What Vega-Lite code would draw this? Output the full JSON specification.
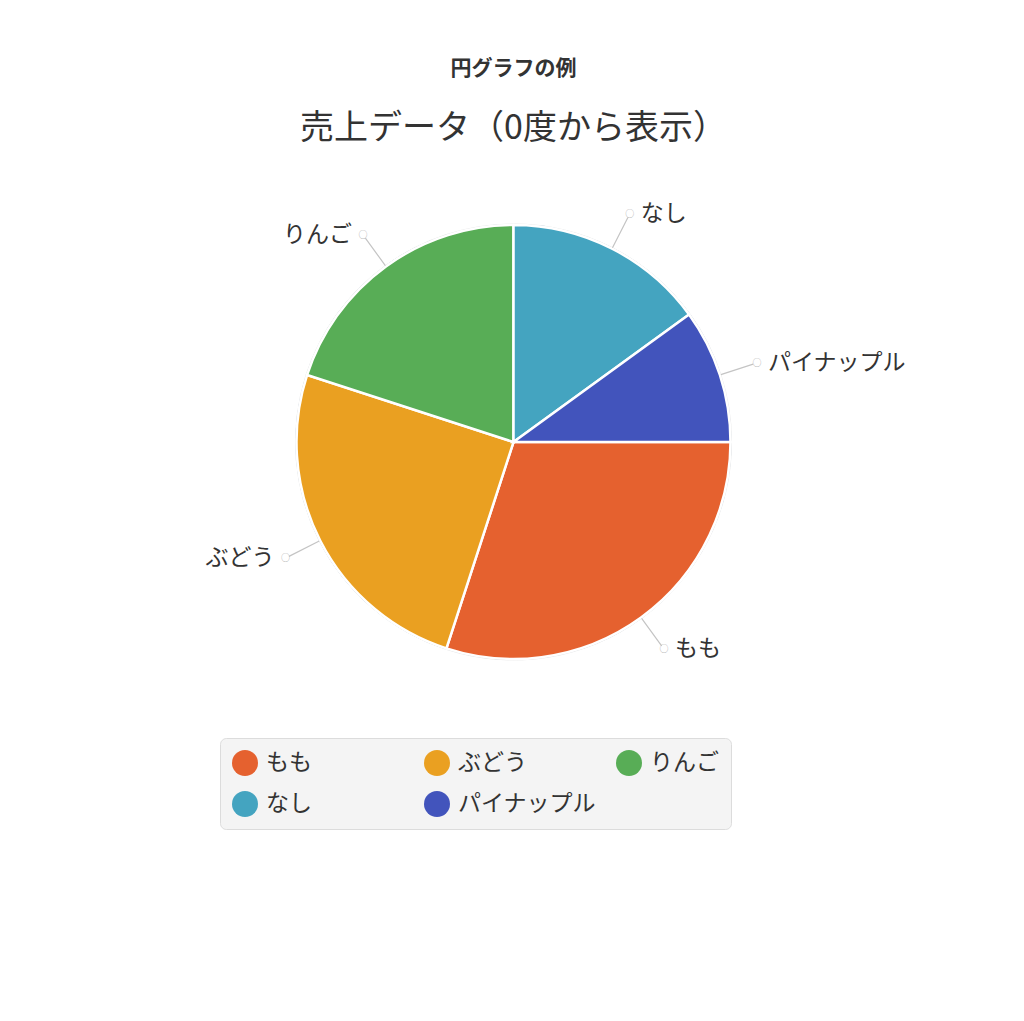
{
  "$schema": "https://vega.github.io/schema/vega-lite/v6.json",
  "width": 933,
  "height": 562,
  "padding": {"top": 58, "left": 47, "right": 44, "bottom": 20},
  "background": "white",
  "title": {
    "text": "円グラフの例",
    "subtitle": "売上データ（0度から表示）",
    "anchor": "middle",
    "fontSize": 21,
    "fontWeight": "bold",
    "color": "#333333",
    "subtitleFontSize": 34,
    "subtitleColor": "#333333",
    "subtitlePadding": 33,
    "offset": 15,
    "font": "Noto Sans CJK JP",
    "subtitleFont": "Noto Sans CJK JP"
  },
  "data": {
    "values": [
      {"idx": 1, "name": "もも", "sales": 30},
      {"idx": 2, "name": "ぶどう", "sales": 25},
      {"idx": 3, "name": "りんご", "sales": 20},
      {"idx": 4, "name": "なし", "sales": 15},
      {"idx": 5, "name": "パイナップル", "sales": 10}
    ]
  },
  "encoding": {
    "theta": {
      "field": "sales",
      "type": "quantitative",
      "stack": true,
      "scale": {"range": [1.5708, 7.854]}
    },
    "order": {"field": "idx", "type": "quantitative"}
  },
  "layer": [
    {
      "mark": {"type": "arc", "outerRadius": 218, "stroke": "#e6e6e6", "strokeWidth": 1},
      "encoding": {}
    },
    {
      "mark": {"type": "arc", "outerRadius": 217, "stroke": "white", "strokeWidth": 2.5},
      "encoding": {
        "color": {
          "field": "name",
          "type": "nominal",
          "scale": {
            "domain": ["もも", "ぶどう", "りんご", "なし", "パイナップル"],
            "range": ["#e5612f", "#eaa021", "#58ad56", "#44a4c0", "#4254bc"]
          },
          "legend": {
            "title": null,
            "orient": "none",
            "legendX": 173,
            "legendY": 577,
            "direction": "horizontal",
            "columns": 3,
            "gridAlign": "all"
          }
        }
      }
    },
    {
      "mark": {"type": "arc", "innerRadius": 218, "outerRadius": 252, "padAngle": 3.14, "stroke": "#c4c4c4", "strokeWidth": 1.2, "fill": null},
      "encoding": {}
    },
    {
      "mark": {"type": "text", "radius": 256, "text": "○", "fontSize": 9, "color": "#b0b0b0", "baseline": "middle"},
      "encoding": {}
    },
    {
      "mark": {"type": "text", "radius": 256, "align": "left", "dx": 11, "baseline": "middle", "fontSize": 23, "color": "#333333", "font": "Noto Sans CJK JP"},
      "encoding": {
        "text": {
          "condition": {"test": "datum.name !== 'りんご' && datum.name !== 'ぶどう'", "field": "name"},
          "value": ""
        }
      }
    },
    {
      "mark": {"type": "text", "radius": 256, "align": "right", "dx": -11, "baseline": "middle", "fontSize": 23, "color": "#333333", "font": "Noto Sans CJK JP"},
      "encoding": {
        "text": {
          "condition": {"test": "datum.name === 'りんご' || datum.name === 'ぶどう'", "field": "name"},
          "value": ""
        }
      }
    }
  ],
  "config": {
    "view": {"stroke": null},
    "font": "Noto Sans CJK JP",
    "legend": {
      "fillColor": "#f4f4f4",
      "strokeColor": "#dcdcdc",
      "cornerRadius": 6,
      "padding": 12,
      "symbolType": "circle",
      "symbolSize": 676,
      "symbolStrokeWidth": 0,
      "symbolOpacity": 1,
      "labelFontSize": 23,
      "labelColor": "#333333",
      "labelFont": "Noto Sans CJK JP",
      "labelOffset": 8,
      "labelLimit": 300,
      "columnPadding": 20,
      "rowPadding": 15
    }
  }
}
